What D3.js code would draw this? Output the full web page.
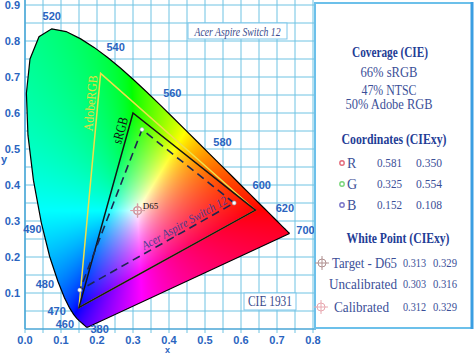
<!DOCTYPE html>
<html>
<head>
<meta charset="utf-8">
<script src="https://cdnjs.cloudflare.com/ajax/libs/d3/7.8.5/d3.min.js"></script>
<style>
  html, body { margin: 0; padding: 0; background: #fff; }
  svg { display: block; }
</style>
</head>
<body>
<div id="chart"></div>
<script>
// CIE 1931 spectral locus, 5nm steps
var wavelengths = [380, 385, 390, 395, 400, 405, 410, 415, 420, 425, 430, 435, 440, 445, 450, 455, 460, 465, 470, 475,
  480, 485, 490, 495, 500, 505, 510, 515, 520, 525, 530, 535, 540, 545, 550, 555, 560, 565, 570, 575,
  580, 585, 590, 595, 600, 605, 610, 615, 620, 625, 630, 635, 640, 645, 650, 655, 660, 665, 670, 675,
  680, 685, 690, 695, 700];
var locusX = [0.1741, 0.1740, 0.1738, 0.1736, 0.1733, 0.1730, 0.1726, 0.1721, 0.1714, 0.1703, 0.1689, 0.1669, 0.1644, 0.1611, 0.1566, 0.1510, 0.1440, 0.1355, 0.1241, 0.1096,
  0.0913, 0.0687, 0.0454, 0.0235, 0.0082, 0.0039, 0.0139, 0.0389, 0.0743, 0.1142, 0.1547, 0.1929, 0.2296, 0.2658, 0.3016, 0.3373, 0.3731, 0.4087, 0.4441, 0.4788,
  0.5125, 0.5448, 0.5752, 0.6029, 0.6270, 0.6482, 0.6658, 0.6801, 0.6915, 0.7006, 0.7079, 0.7140, 0.7190, 0.7230, 0.7260, 0.7283, 0.7300, 0.7311, 0.7320, 0.7327,
  0.7334, 0.7340, 0.7344, 0.7346, 0.7347];
var locusY = [0.0050, 0.0050, 0.0049, 0.0049, 0.0048, 0.0048, 0.0048, 0.0048, 0.0051, 0.0058, 0.0069, 0.0086, 0.0109, 0.0138, 0.0177, 0.0227, 0.0297, 0.0399, 0.0578, 0.0868,
  0.1327, 0.2007, 0.2950, 0.4127, 0.5384, 0.6548, 0.7502, 0.8120, 0.8338, 0.8262, 0.8059, 0.7816, 0.7543, 0.7243, 0.6923, 0.6589, 0.6245, 0.5896, 0.5547, 0.5202,
  0.4866, 0.4544, 0.4242, 0.3965, 0.3725, 0.3514, 0.3340, 0.3197, 0.3083, 0.2993, 0.2920, 0.2859, 0.2809, 0.2770, 0.2740, 0.2717, 0.2700, 0.2689, 0.2680, 0.2673,
  0.2666, 0.2660, 0.2656, 0.2653, 0.2653];
var labelledWavelengths = [380, 460, 470, 480, 490, 520, 540, 560, 580, 600, 620, 700];

// gamuts (R, G, B)
var adobeX = [0.64, 0.21, 0.15];
var adobeY = [0.33, 0.71, 0.06];
var srgbX = [0.64, 0.30, 0.15];
var srgbY = [0.33, 0.60, 0.06];
var channels = ['R', 'G', 'B'];
var measuredX = [0.581, 0.325, 0.152];
var measuredY = [0.350, 0.554, 0.108];

// white points
var whiteNames = ['Target - D65', 'Uncalibrated', 'Calibrated'];
var whiteX = [0.313, 0.303, 0.312];
var whiteY = [0.329, 0.316, 0.329];

var coverageLines = ['66% sRGB', '47% NTSC', '50% Adobe RGB'];
var xTicks = [0.0, 0.1, 0.2, 0.3, 0.4, 0.5, 0.6, 0.7, 0.8];
var yTicks = [0.1, 0.2, 0.3, 0.4, 0.5, 0.6, 0.7, 0.8, 0.9];

var width = 474, height = 354;
var blue = '#2a64bf', grid = '#6ec3e3';

// label placement around the locus (pixels)
var labelOffset = {
  380: [12, 2], 460: [-12, 6], 470: [-13, 3], 480: [-13, 3], 490: [-9, 6],
  520: [0, -13], 540: [8, -10], 560: [13, -11], 580: [13, -12], 600: [11, -10], 620: [11, -10], 700: [16, -3]
};

var x = d3.scaleLinear().domain([0, 0.8]).range([25, 313]);
var y = d3.scaleLinear().domain([0, 0.9]).range([329, 5]);

var svg = d3.select('#chart').append('svg')
  .attr('width', width)
  .attr('height', height);

// grid
var gridG = svg.append('g');
gridG.selectAll('line.v')
  .data(d3.range(0, 17).map(function(i) { return i * 0.05; }))
  .enter().append('line')
  .attr('x1', function(d) { return x(d); }).attr('x2', function(d) { return x(d); })
  .attr('y1', 0).attr('y2', y(0) + 4)
  .attr('stroke', grid).attr('stroke-width', 1);
gridG.selectAll('line.h')
  .data(d3.range(1, 19).map(function(i) { return i * 0.05; }))
  .enter().append('line')
  .attr('x1', x(0)).attr('x2', 316)
  .attr('y1', function(d) { return y(d); }).attr('y2', function(d) { return y(d); })
  .attr('stroke', grid).attr('stroke-width', 1);
svg.append('line').attr('x1', x(0)).attr('x2', x(0)).attr('y1', 0).attr('y2', y(0))
  .attr('stroke', '#4aa6d6').attr('stroke-width', 1.5);
svg.append('line').attr('x1', x(0)).attr('x2', 316).attr('y1', y(0)).attr('y2', y(0))
  .attr('stroke', '#4aa6d6').attr('stroke-width', 1.5);

// tick labels
svg.selectAll('text.xt').data(xTicks).enter().append('text')
  .attr('x', function(d) { return x(d); }).attr('y', 344)
  .attr('text-anchor', 'middle')
  .attr('font-family', 'Liberation Sans, Arial, sans-serif').attr('font-weight', 'bold')
  .attr('font-size', 11).attr('fill', blue)
  .text(function(d) { return d.toFixed(1); });
svg.selectAll('text.yt').data(yTicks).enter().append('text')
  .attr('x', 20).attr('y', function(d) { return y(d) + 4; })
  .attr('text-anchor', 'end')
  .attr('font-family', 'Liberation Sans, Arial, sans-serif').attr('font-weight', 'bold')
  .attr('font-size', 11).attr('fill', blue)
  .text(function(d) { return d.toFixed(1); });
svg.append('text').attr('x', 1).attr('y', 163)
  .attr('font-family', 'Liberation Sans, Arial, sans-serif').attr('font-weight', 'bold')
  .attr('font-size', 11).attr('fill', blue).text('y');
svg.append('text').attr('x', 165).attr('y', 353)
  .attr('font-family', 'Liberation Sans, Arial, sans-serif').attr('font-weight', 'bold')
  .attr('font-size', 9).attr('fill', blue).text('x');

// horseshoe fill
var locusPts = wavelengths.map(function(w, i) { return [x(locusX[i]), y(locusY[i])]; });
var locusPath = d3.line()(locusPts) + 'Z';

svg.append('clipPath').attr('id', 'locus-clip')
  .append('path').attr('d', locusPath);

// xy -> display colour: desaturate out-of-gamut by adding white, scale to full brightness
var xyToRgb = function(cx, cy) {
  var X = cx / cy, Y = 1, Z = (1 - cx - cy) / cy;
  var r = 3.2406 * X - 1.5372 * Y - 0.4986 * Z;
  var g = -0.9689 * X + 1.8758 * Y + 0.0415 * Z;
  var b = 0.0557 * X - 0.2040 * Y + 1.0570 * Z;
  var m = Math.min(r, g, b);
  if (m < 0) { r -= m; g -= m; b -= m; }
  var mx = Math.max(r, g, b) || 1;
  return [Math.pow(r / mx, 0.8), Math.pow(g / mx, 0.8), Math.pow(b / mx, 0.8)];
};

var x0 = Math.floor(x(0)), x1 = Math.ceil(x(0.75)), y0 = Math.floor(y(0.85)), y1 = Math.ceil(y(0));
var canvas = document.createElement('canvas');
canvas.width = x1 - x0;
canvas.height = y1 - y0;
var ctx = canvas.getContext('2d');
var img = ctx.createImageData(canvas.width, canvas.height);
for (var py = 0; py < canvas.height; py++) {
  for (var px = 0; px < canvas.width; px++) {
    var cx = x.invert(x0 + px + 0.5), cy = Math.max(y.invert(y0 + py + 0.5), 0.002);
    var c = xyToRgb(cx, cy);
    var k = (py * canvas.width + px) * 4;
    img.data[k] = Math.round(255 * Math.min(1, c[0]));
    img.data[k + 1] = Math.round(255 * Math.min(1, c[1]));
    img.data[k + 2] = Math.round(255 * Math.min(1, c[2]));
    img.data[k + 3] = 255;
  }
}
ctx.putImageData(img, 0, 0);

svg.append('image')
  .attr('x', x0).attr('y', y0)
  .attr('width', canvas.width).attr('height', canvas.height)
  .attr('href', canvas.toDataURL('image/png'))
  .attr('clip-path', 'url(#locus-clip)');

svg.append('path').attr('d', locusPath)
  .attr('fill', 'none').attr('stroke', '#000').attr('stroke-width', 1.2);

// wavelength labels
svg.selectAll('text.wl').data(labelledWavelengths).enter().append('text')
  .attr('x', function(d) { var i = wavelengths.indexOf(d); return x(locusX[i]) + labelOffset[d][0]; })
  .attr('y', function(d) { var i = wavelengths.indexOf(d); return y(locusY[i]) + labelOffset[d][1] + 4; })
  .attr('text-anchor', 'middle')
  .attr('font-family', 'Liberation Sans, Arial, sans-serif').attr('font-weight', 'bold')
  .attr('font-size', 11).attr('fill', blue)
  .text(function(d) { return d; });

// gamut triangles
var triangle = function(xs, ys) {
  return d3.line()(xs.map(function(v, i) { return [x(v), y(ys[i])]; })) + 'Z';
};
svg.append('path').attr('d', triangle(adobeX, adobeY))
  .attr('fill', 'none').attr('stroke', '#eee14a').attr('stroke-width', 1.5);
svg.append('path').attr('d', triangle(srgbX, srgbY))
  .attr('fill', 'none').attr('stroke', '#151515').attr('stroke-width', 1.5);
svg.append('path').attr('d', triangle(measuredX, measuredY))
  .attr('fill', 'none').attr('stroke', '#1d2750').attr('stroke-width', 1.6)
  .attr('stroke-dasharray', '8,5');
svg.selectAll('circle.mv').data(measuredX).enter().append('circle')
  .attr('cx', function(d) { return x(d); })
  .attr('cy', function(d, i) { return y(measuredY[i]); })
  .attr('r', 2).attr('fill', '#fff').attr('stroke', '#9ab').attr('stroke-width', 0.6);

// edge labels
var edgeLabel = function(xs, ys, a, b, t, off, label, color, size, len, italic) {
  var pa = [x(xs[a]), y(ys[a])], pb = [x(xs[b]), y(ys[b])];
  var ang = Math.atan2(pb[1] - pa[1], pb[0] - pa[0]);
  var px = pa[0] + (pb[0] - pa[0]) * t, py = pa[1] + (pb[1] - pa[1]) * t;
  var nx = Math.sin(ang) * off, ny = -Math.cos(ang) * off;
  svg.append('text')
    .attr('transform', 'translate(' + (px + nx) + ',' + (py + ny) + ') rotate(' + (ang * 180 / Math.PI) + ')')
    .attr('text-anchor', 'middle')
    .attr('font-family', 'Liberation Serif, serif')
    .attr('font-style', italic ? 'italic' : 'normal')
    .attr('font-size', size).attr('fill', color)
    .attr('textLength', len).attr('lengthAdjust', 'spacingAndGlyphs')
    .text(label);
};
edgeLabel(adobeX, adobeY, 2, 1, 0.87, 3, 'AdobeRGB', '#e6e040', 13, 56, false);
edgeLabel(srgbX, srgbY, 2, 1, 0.9, 3, 'sRGB', '#111', 14, 27, false);
edgeLabel(measuredX, measuredY, 2, 0, 0.7, 3, 'Acer Aspire Switch 12', '#4b3d8f', 12, 96, true);

// white point markers
var crosshair = function(g, cx, cy, color) {
  g.append('circle').attr('cx', cx).attr('cy', cy).attr('r', 4)
    .attr('fill', 'none').attr('stroke', color).attr('stroke-width', 1);
  g.append('line').attr('x1', cx - 7).attr('x2', cx + 7).attr('y1', cy).attr('y2', cy)
    .attr('stroke', color).attr('stroke-width', 1);
  g.append('line').attr('x1', cx).attr('x2', cx).attr('y1', cy - 7).attr('y2', cy + 7)
    .attr('stroke', color).attr('stroke-width', 1);
};
crosshair(svg, x(whiteX[0]), y(whiteY[0]), '#a08080');
crosshair(svg, x(whiteX[2]), y(whiteY[2]), '#e0a0a8');
svg.append('text').attr('x', x(whiteX[0]) + 5).attr('y', y(whiteY[0]) - 2)
  .attr('font-family', 'Liberation Serif, serif').attr('font-size', 9).attr('fill', '#111')
  .text('D65');

// boxes on the plot
var labelBox = function(bx, by, bw, bh, label, size, len, italic) {
  svg.append('rect').attr('x', bx).attr('y', by).attr('width', bw).attr('height', bh)
    .attr('fill', '#fff').attr('stroke', '#7cc6ea').attr('stroke-width', 1);
  svg.append('text').attr('x', bx + bw / 2).attr('y', by + bh / 2 + size * 0.35)
    .attr('text-anchor', 'middle')
    .attr('font-family', 'Liberation Serif, serif')
    .attr('font-style', italic ? 'italic' : 'normal')
    .attr('font-size', size).attr('fill', '#3a4a8c')
    .attr('textLength', len).attr('lengthAdjust', 'spacingAndGlyphs')
    .text(label);
};
labelBox(188, 23, 99, 16, 'Acer Aspire Switch 12', 13, 86, true);
labelBox(244, 293, 52, 17, 'CIE 1931', 14, 44, false);

// right panel
var panel = svg.append('g');
panel.append('rect').attr('x', 315).attr('y', 3).attr('width', 157).attr('height', 325)
  .attr('fill', '#fff').attr('stroke', '#6cc0ea').attr('stroke-width', 2);
panel.append('line').attr('x1', 472).attr('x2', 472).attr('y1', 2).attr('y2', 329)
  .attr('stroke', '#3a9ee2').attr('stroke-width', 3);

var head = '#1f3d96', body = '#3b4f98', serif = 'Liberation Serif, serif';
var panelText = function(tx, ty, label, opts) {
  opts = opts || {};
  var t = panel.append('text').attr('x', tx).attr('y', ty)
    .attr('text-anchor', opts.anchor || 'start')
    .attr('font-family', serif)
    .attr('font-weight', opts.bold ? 'bold' : 'normal')
    .attr('font-size', opts.size || 13)
    .attr('fill', opts.color || body)
    .text(label);
  if (opts.len) t.attr('textLength', opts.len).attr('lengthAdjust', 'spacingAndGlyphs');
  return t;
};

panelText(390, 57, 'Coverage (CIE)', { anchor: 'middle', bold: true, size: 15, color: head, len: 76 });
coverageLines.forEach(function(t, i) {
  panelText(389, [77, 95, 109][i], t, { anchor: 'middle', size: 14, len: [57, 55, 87][i] });
});

panelText(394, 144, 'Coordinates (CIExy)', { anchor: 'middle', bold: true, size: 15, color: head, len: 105 });
var dotColors = ['#e46a7a', '#7ad67a', '#7a74c8'];
channels.forEach(function(ch, i) {
  var ry = [163, 184, 205][i];
  panel.append('circle').attr('cx', 342).attr('cy', ry).attr('r', 2.2)
    .attr('fill', '#fff').attr('stroke', dotColors[i]).attr('stroke-width', 1.4);
  panelText(347, ry + 5, ch, { size: 14 });
  panelText(377, ry + 4, measuredX[i].toFixed(3), { size: 13, len: 25 });
  panelText(416, ry + 4, measuredY[i].toFixed(3), { size: 13, len: 26 });
});

panelText(398, 243, 'White Point (CIExy)', { anchor: 'middle', bold: true, size: 14, color: head, len: 103 });
var wpRows = [263, 284, 307];
var wpStart = [332, 329, 334];
var wpLen = [65, 68, 55];
crosshair(panel, 322, wpRows[0], '#b09090');
crosshair(panel, 321, wpRows[2], '#e8a8b0');
whiteNames.forEach(function(n, i) {
  panelText(wpStart[i], wpRows[i] + 5, n, { size: 14, len: wpLen[i] });
  panelText(403, wpRows[i] + 4, whiteX[i].toFixed(3), { size: 13, len: 23 });
  panelText(433, wpRows[i] + 4, whiteY[i].toFixed(3), { size: 13, len: 24 });
});
</script>
</body>
</html>
